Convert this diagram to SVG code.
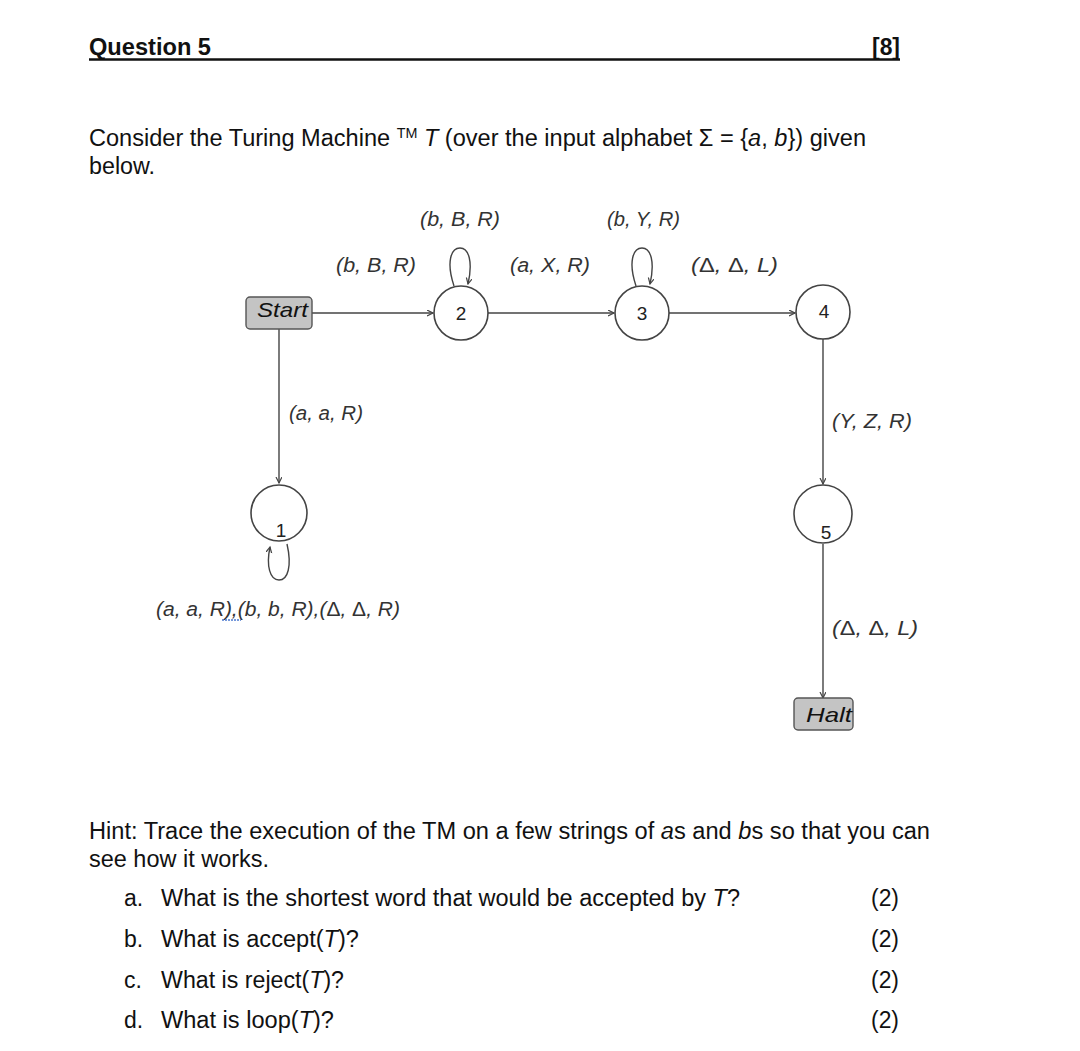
<svg xmlns="http://www.w3.org/2000/svg" width="1080" height="1051" viewBox="0 0 1080 1051">
<style>
.t{font-family:"Liberation Sans",Arial,sans-serif;fill:#111;}
.body{font-size:23px;}
.lbl{font-size:20px;font-style:italic;fill:#333;}
.num{font-size:19px;fill:#222;text-anchor:middle;}
.st{fill:none;stroke:#444;stroke-width:1.4;}
.state{fill:#fff;stroke:#444;stroke-width:1.6;}
.box{fill:#c4c4c4;stroke:#555;stroke-width:1.4;}
.it{font-style:italic;}
.up{font-style:normal;}
</style>
<defs>
<marker id="ar" markerWidth="8" markerHeight="8" refX="6" refY="3" orient="auto" markerUnits="userSpaceOnUse">
<path d="M0,0 L6,3 L0,6" fill="none" stroke="#444" stroke-width="1.2"/>
</marker>
</defs>
<rect width="1080" height="1051" fill="#fff"/>

<g id="header">
<text class="t" x="89" y="55" font-size="23" font-weight="bold" textLength="122" lengthAdjust="spacingAndGlyphs">Question 5</text>
<text class="t" x="872" y="55" font-size="23" font-weight="bold" textLength="28" lengthAdjust="spacingAndGlyphs">[8]</text>
<line x1="89" y1="59.5" x2="900" y2="59.5" stroke="#111" stroke-width="2.5"/>
<text class="t body" x="89" y="146" textLength="777" lengthAdjust="spacingAndGlyphs">Consider the Turing Machine <tspan font-size="14" dy="-8">TM</tspan><tspan dy="8"> </tspan><tspan class="it">T</tspan> (over the input alphabet Σ = {<tspan class="it">a</tspan>, <tspan class="it">b</tspan>}) given</text>
<text class="t body" x="89" y="174" textLength="66" lengthAdjust="spacingAndGlyphs">below.</text>
</g>

<g id="connectors">
<line class="st" x1="312" y1="313" x2="433" y2="313" marker-end="url(#ar)"/>
<line class="st" x1="488" y1="313" x2="614" y2="313" marker-end="url(#ar)"/>
<line class="st" x1="669" y1="313" x2="795" y2="313" marker-end="url(#ar)"/>
<line class="st" x1="279" y1="328" x2="279" y2="483" marker-end="url(#ar)"/>
<line class="st" x1="823" y1="339" x2="823" y2="484" marker-end="url(#ar)"/>
<line class="st" x1="823" y1="544" x2="823" y2="698" marker-end="url(#ar)"/>
<path class="st" d="M454,286 C446,262 451,248 460,248 C469,248 473,262 468,284" marker-end="url(#ar)"/>
<path class="st" d="M636,286 C628,262 633,248 642,248 C651,248 655,262 650,284" marker-end="url(#ar)"/>
<path class="st" d="M287,544 C292,566 288,580 279,580 C270,580 266,566 270,547" marker-end="url(#ar)"/>
</g>

<g id="start">
<rect class="box" x="246" y="297" width="66" height="32" rx="4"/>
<text class="t" x="257" y="317" font-size="21" font-style="italic" fill="#333" textLength="51" lengthAdjust="spacingAndGlyphs">Start</text>
</g>
<g id="node1">
<circle class="state" cx="279" cy="513" r="28"/>
<text class="t num" x="281" y="537">1</text>
</g>
<g id="node2">
<circle class="state" cx="461" cy="313" r="27"/>
<text class="t num" x="461" y="320">2</text>
</g>
<g id="node3">
<circle class="state" cx="642" cy="313" r="27"/>
<text class="t num" x="642" y="320">3</text>
</g>
<g id="node4">
<circle class="state" cx="823" cy="312" r="27"/>
<text class="t num" x="824" y="318">4</text>
</g>
<g id="node5">
<circle class="state" cx="823" cy="514" r="29"/>
<text class="t num" x="826" y="539">5</text>
</g>
<g id="halt">
<rect class="box" x="794" y="698" width="59" height="32" rx="4"/>
<text class="t" x="806" y="722" font-size="21" font-style="italic" fill="#333" textLength="46" lengthAdjust="spacingAndGlyphs">Halt</text>
</g>

<g id="labels">
<text class="t lbl" x="420" y="226" textLength="80" lengthAdjust="spacingAndGlyphs">(b, B, R)</text>
<text class="t lbl" x="336" y="272" textLength="80" lengthAdjust="spacingAndGlyphs">(b, B, R)</text>
<text class="t lbl" x="510" y="272" textLength="80" lengthAdjust="spacingAndGlyphs">(a, X, R)</text>
<text class="t lbl" x="607" y="226" textLength="73" lengthAdjust="spacingAndGlyphs">(b, Y, R)</text>
<text class="t lbl" x="691" y="272" textLength="87" lengthAdjust="spacingAndGlyphs">(<tspan class="up">Δ</tspan>,  <tspan class="up">Δ</tspan>, L)</text>
<text class="t lbl" x="289" y="420" textLength="74" lengthAdjust="spacingAndGlyphs">(a, a, R)</text>
<text class="t lbl" x="832" y="428" textLength="80" lengthAdjust="spacingAndGlyphs">(Y, Z, R)</text>
<text class="t lbl" x="832" y="635" textLength="86" lengthAdjust="spacingAndGlyphs">(<tspan class="up">Δ</tspan>,  <tspan class="up">Δ</tspan>, L)</text>
<text class="t lbl" x="156" y="616" textLength="244" lengthAdjust="spacingAndGlyphs">(a, a, R),(b, b, R),(<tspan class="up">Δ</tspan>,  <tspan class="up">Δ</tspan>, R)</text>
<line x1="222" y1="620" x2="241" y2="620" stroke="#4a78d0" stroke-width="1.5" stroke-dasharray="2,1"/>
</g>

<g id="questions">
<text class="t body" x="89" y="839" textLength="841" lengthAdjust="spacingAndGlyphs">Hint: Trace the execution of the TM on a few strings of <tspan class="it">a</tspan>s and <tspan class="it">b</tspan>s so that you can</text>
<text class="t body" x="89" y="867" textLength="180" lengthAdjust="spacingAndGlyphs">see how it works.</text>
<text class="t body" x="124" y="906">a.</text>
<text class="t body" x="161" y="906" textLength="579" lengthAdjust="spacingAndGlyphs">What is the shortest word that would be accepted by <tspan class="it">T</tspan>?</text>
<text class="t body" x="124" y="947">b.</text>
<text class="t body" x="161" y="947" textLength="198" lengthAdjust="spacingAndGlyphs">What is accept(<tspan class="it">T</tspan>)?</text>
<text class="t body" x="124" y="988">c.</text>
<text class="t body" x="161" y="988" textLength="183" lengthAdjust="spacingAndGlyphs">What is reject(<tspan class="it">T</tspan>)?</text>
<text class="t body" x="124" y="1028">d.</text>
<text class="t body" x="161" y="1028" textLength="173" lengthAdjust="spacingAndGlyphs">What is loop(<tspan class="it">T</tspan>)?</text>
<text class="t body" x="871" y="906" textLength="28" lengthAdjust="spacingAndGlyphs">(2)</text>
<text class="t body" x="871" y="947" textLength="28" lengthAdjust="spacingAndGlyphs">(2)</text>
<text class="t body" x="871" y="988" textLength="28" lengthAdjust="spacingAndGlyphs">(2)</text>
<text class="t body" x="871" y="1028" textLength="28" lengthAdjust="spacingAndGlyphs">(2)</text>
</g>
</svg>
